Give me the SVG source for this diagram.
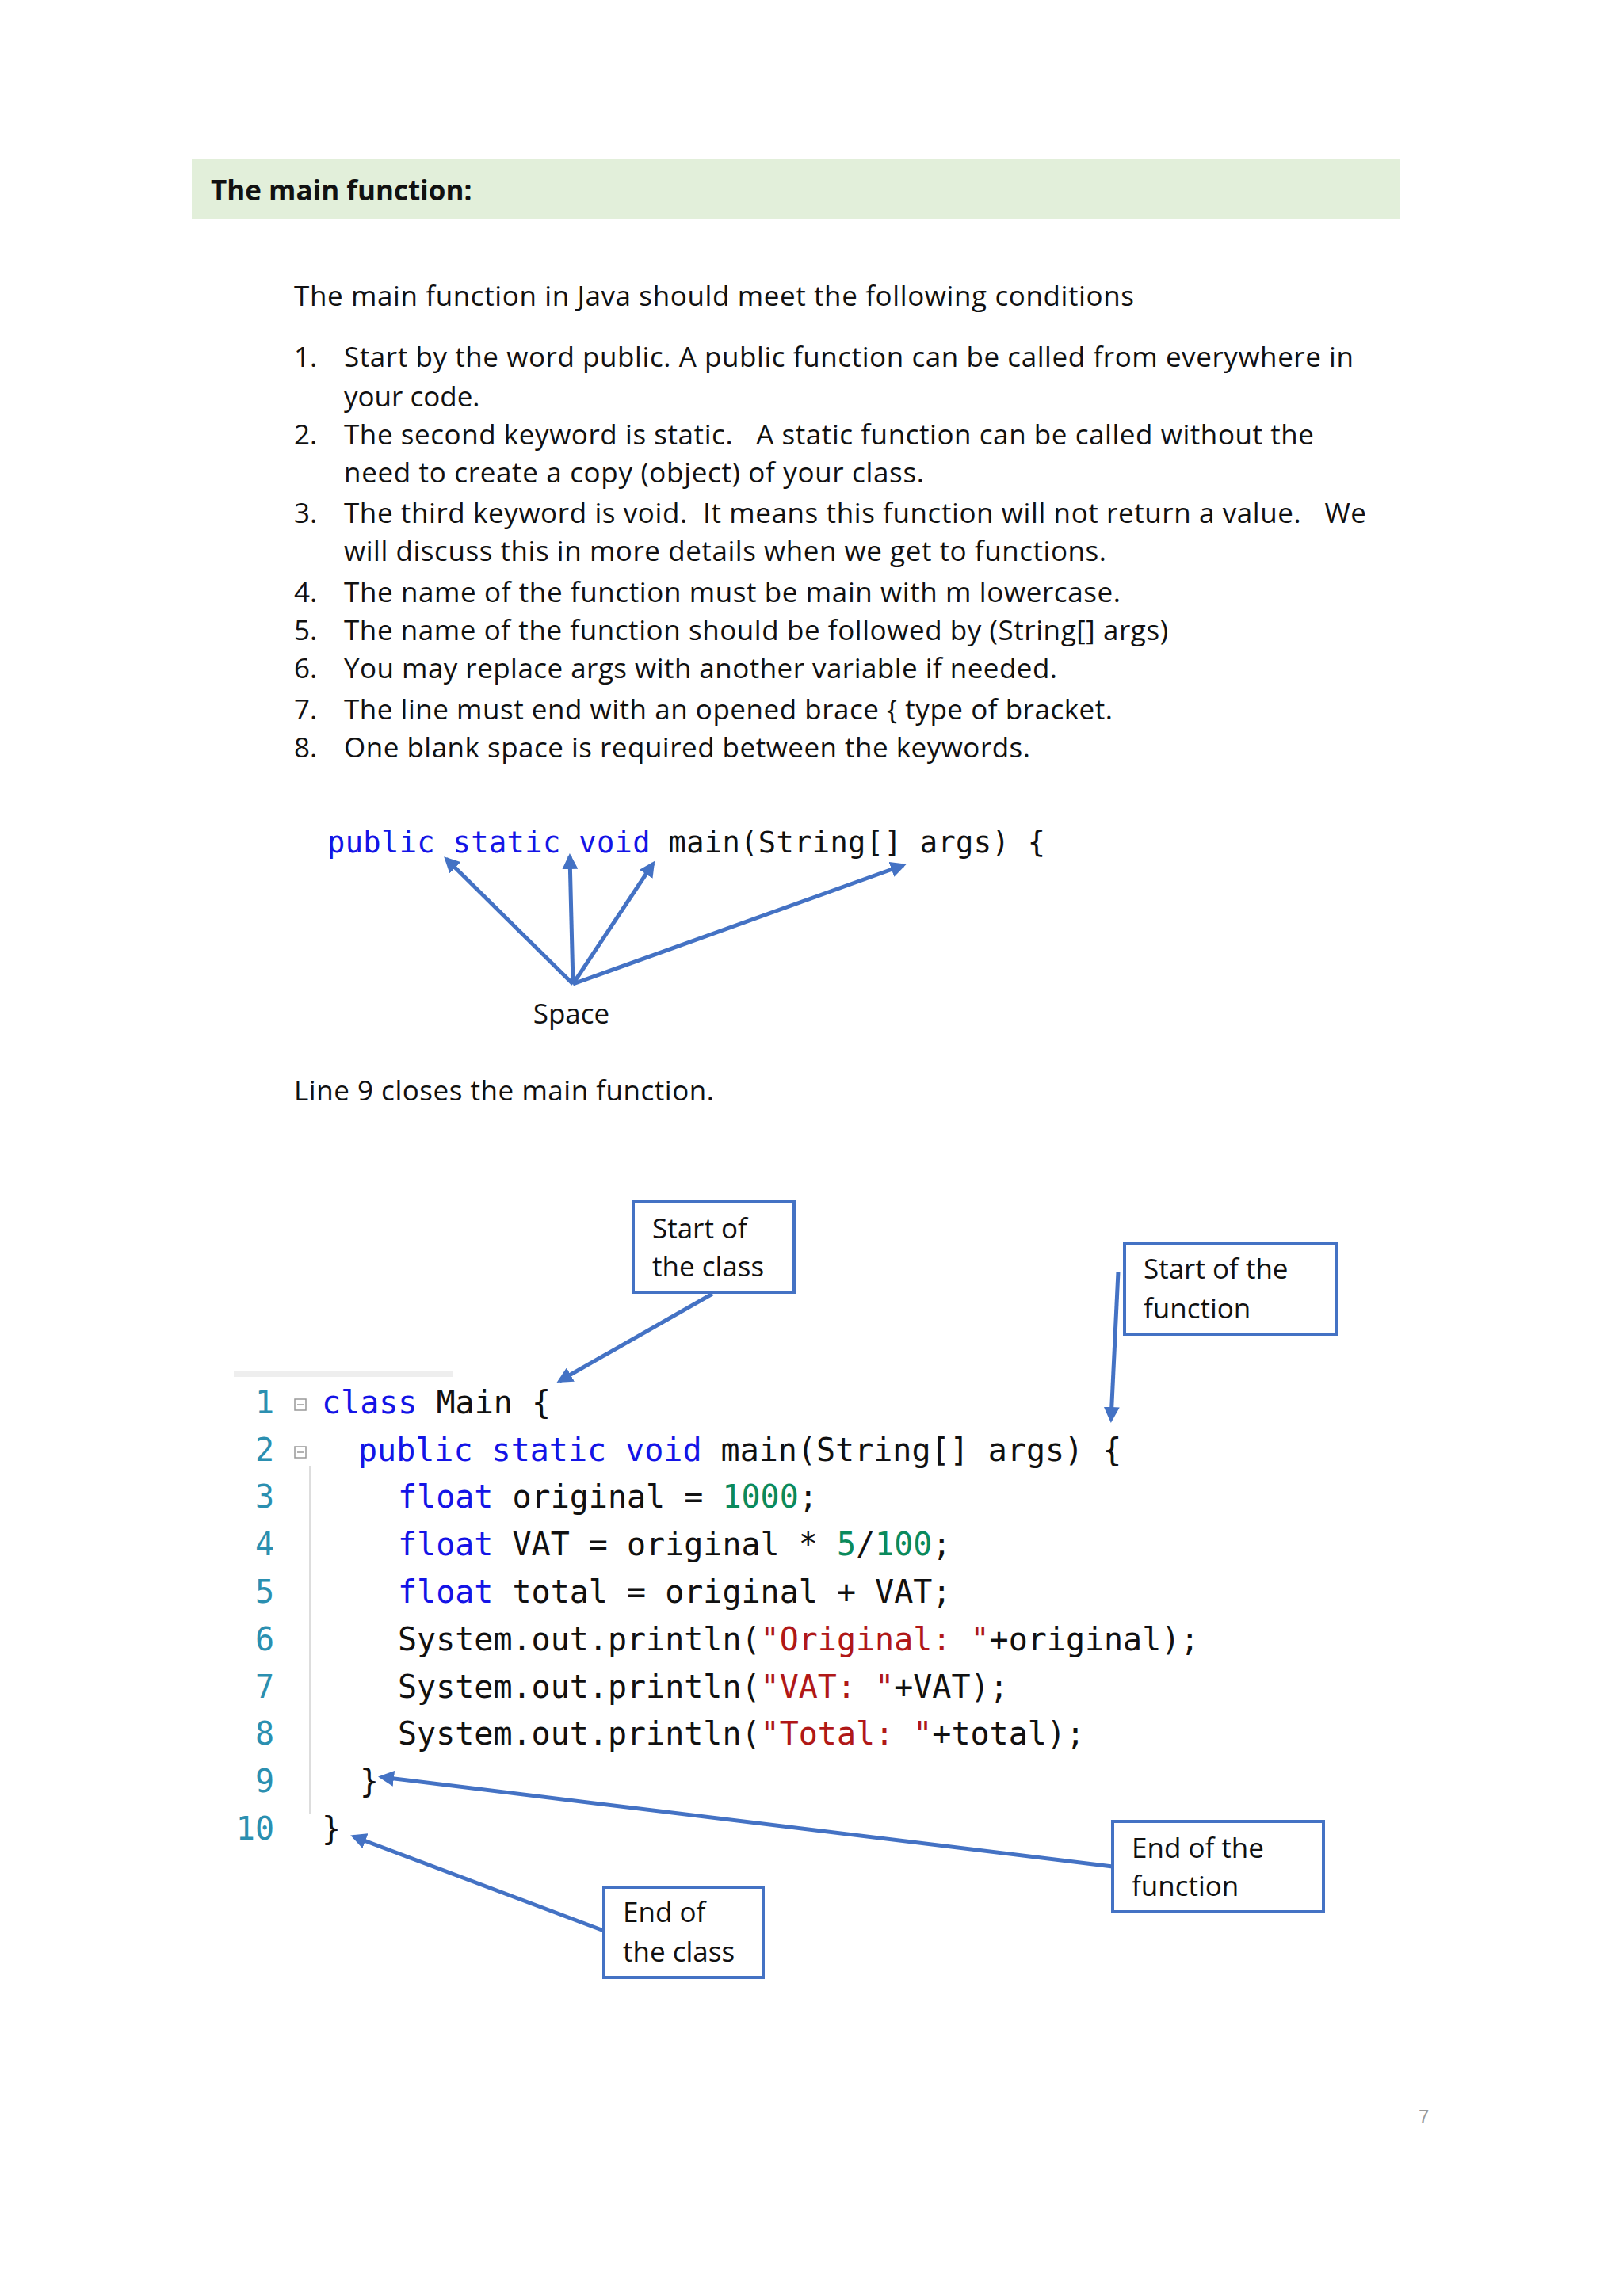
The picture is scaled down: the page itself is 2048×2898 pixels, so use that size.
<svg xmlns="http://www.w3.org/2000/svg" width="2048" height="2898" viewBox="0 0 2048 2898">
<style>
.b{font-family:"Open Sans","Liberation Sans",sans-serif;font-size:35px;fill:#111}
.m{font-family:"DejaVu Sans Mono","Liberation Mono",monospace;fill:#111}
.k{fill:#1414e6}.n{fill:#0b8a5c}.s{fill:#b01818}
.ln{font-family:"DejaVu Sans Mono",monospace;font-size:40px;fill:#2b8fb0;text-anchor:end}
.box{fill:#fff;stroke:#4472c4;stroke-width:4}
.c{stroke:#4472c4;stroke-width:5;fill:none;marker-end:url(#ah)}
</style>
<defs><marker id="ah" viewBox="0 0 10 10" refX="8" refY="5" markerWidth="4" markerHeight="4" orient="auto"><path d="M0,0 L10,5 L0,10 z" fill="#4472c4"/></marker></defs>
<rect width="2048" height="2898" fill="#fff"/>
<g id="header"><rect x="242" y="201" width="1524" height="76" fill="#e2efda"/>
<text x="266" y="253" class="b" style="font-weight:bold">The main function:</text></g>
<g id="body">
<text class="b" x="371" y="386" textLength="1060">The main function in Java should meet the following conditions</text>
<text class="b" x="371" y="463">1.</text><text class="b" x="434" y="463" textLength="1274">Start by the word public. A public function can be called from everywhere in</text>
<text class="b" x="434" y="513">your code.</text>
<text class="b" x="371" y="561">2.</text><text class="b" x="434" y="561" textLength="1224" xml:space="preserve">The second keyword is static.   A static function can be called without the</text>
<text class="b" x="434" y="609" textLength="732">need to create a copy (object) of your class.</text>
<text class="b" x="371" y="660">3.</text><text class="b" x="434" y="660" textLength="1290" xml:space="preserve">The third keyword is void.  It means this function will not return a value.   We</text>
<text class="b" x="434" y="708" textLength="962">will discuss this in more details when we get to functions.</text>
<text class="b" x="371" y="760">4.</text><text class="b" x="434" y="760" textLength="980">The name of the function must be main with m lowercase.</text>
<text class="b" x="371" y="808">5.</text><text class="b" x="434" y="808" textLength="1040">The name of the function should be followed by (String[] args)</text>
<text class="b" x="371" y="856">6.</text><text class="b" x="434" y="856" textLength="900">You may replace args with another variable if needed.</text>
<text class="b" x="371" y="908">7.</text><text class="b" x="434" y="908" textLength="970">The line must end with an opened brace { type of bracket.</text>
<text class="b" x="371" y="956">8.</text><text class="b" x="434" y="956" textLength="866">One blank space is required between the keywords.</text>
</g>
<g id="sig"><text class="m" x="413" y="1076" font-size="37" textLength="906"><tspan class="k">public static void</tspan> main(String[] args) {</text></g>
<g id="space"><text class="b" x="721" y="1292" text-anchor="middle">Space</text></g>
<g id="line9"><text class="b" x="371" y="1389" textLength="530">Line 9 closes the main function.</text></g>
<g id="code">
<rect x="295" y="1731" width="277" height="7" fill="#eeeeee"/>
<line x1="391" y1="1850" x2="391" y2="2290" stroke="#ddd" stroke-width="2"/>
<rect x="372" y="1766" width="14" height="14" fill="#fff" stroke="#999" stroke-width="1.5"/><line x1="375" y1="1773" x2="383" y2="1773" stroke="#999" stroke-width="1.5"/>
<rect x="372" y="1826" width="14" height="14" fill="#fff" stroke="#999" stroke-width="1.5"/><line x1="375" y1="1833" x2="383" y2="1833" stroke="#999" stroke-width="1.5"/>
<text class="ln" x="346" y="1784">1</text><text class="ln" x="346" y="1844">2</text><text class="ln" x="346" y="1903">3</text><text class="ln" x="346" y="1963">4</text><text class="ln" x="346" y="2023">5</text><text class="ln" x="346" y="2083">6</text><text class="ln" x="346" y="2143">7</text><text class="ln" x="346" y="2202">8</text><text class="ln" x="346" y="2262">9</text><text class="ln" x="346" y="2322">10</text>
<g class="m" font-size="40">
<text x="406" y="1784"><tspan class="k">class</tspan> Main {</text>
<text x="452" y="1844"><tspan class="k">public static void</tspan> main(String[] args) {</text>
<text x="502" y="1903"><tspan class="k">float</tspan> original = <tspan class="n">1000</tspan>;</text>
<text x="502" y="1963"><tspan class="k">float</tspan> VAT = original * <tspan class="n">5</tspan>/<tspan class="n">100</tspan>;</text>
<text x="502" y="2023"><tspan class="k">float</tspan> total = original + VAT;</text>
<text x="502" y="2083">System.out.println(<tspan class="s">"Original: "</tspan>+original);</text>
<text x="502" y="2143">System.out.println(<tspan class="s">"VAT: "</tspan>+VAT);</text>
<text x="502" y="2202">System.out.println(<tspan class="s">"Total: "</tspan>+total);</text>
<text x="454" y="2262">}</text>
<text x="406" y="2322">}</text>
</g></g>
<g id="n-start-class"><rect class="box" x="799" y="1517" width="203" height="114"/><text class="b" x="823" y="1563">Start of</text><text class="b" x="823" y="1611">the class</text></g>
<g id="n-start-func"><rect class="box" x="1419" y="1570" width="267" height="114"/><text class="b" x="1443" y="1614">Start of the</text><text class="b" x="1443" y="1664">function</text></g>
<g id="n-end-func"><rect class="box" x="1404" y="2299" width="266" height="114"/><text class="b" x="1428" y="2345">End of the</text><text class="b" x="1428" y="2393">function</text></g>
<g id="n-end-class"><rect class="box" x="762" y="2382" width="201" height="114"/><text class="b" x="786" y="2426">End of</text><text class="b" x="786" y="2476">the class</text></g>
<g id="connectors">
<line class="c" x1="723" y1="1242" x2="563" y2="1084"/>
<line class="c" x1="723" y1="1242" x2="719" y2="1081"/>
<line class="c" x1="723" y1="1242" x2="824" y2="1090"/>
<line class="c" x1="723" y1="1242" x2="1140" y2="1092"/>
<line class="c" x1="899" y1="1633" x2="706" y2="1743"/>
<line class="c" x1="1411" y1="1605" x2="1402" y2="1792"/>
<line class="c" x1="1404" y1="2356" x2="481" y2="2243"/>
<line class="c" x1="762" y1="2437" x2="446" y2="2318"/>
</g>
<text x="1790" y="2680" font-family="Liberation Sans,sans-serif" font-size="24" fill="#999">7</text>
</svg>
